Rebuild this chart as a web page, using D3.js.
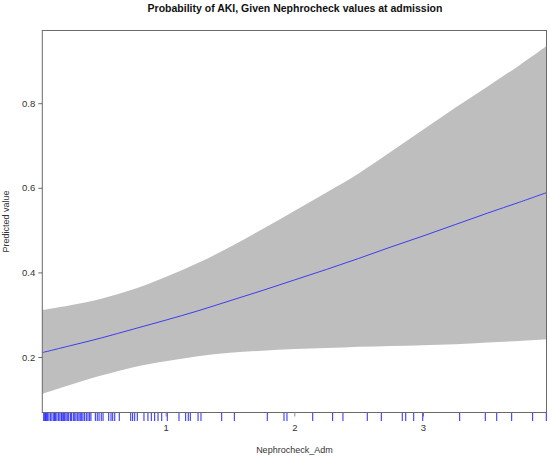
<!DOCTYPE html>
<html>
<head>
<meta charset="utf-8">
<script src="https://cdn.jsdelivr.net/npm/d3@7"></script>
<style>
  html, body { margin: 0; padding: 0; background: #fff; }
  svg { display: block; font-family: "Liberation Sans", Arial, sans-serif; }
</style>
</head>
<body>
<svg id="chart" width="550" height="457"></svg>
<script>
// ---- data ----
const xGrid = [0.036, 0.25, 0.5, 0.75, 1.0, 1.25, 1.5, 1.75, 2.0, 2.25, 2.5, 2.75, 3.0, 3.25, 3.5, 3.75, 3.964];
const fitValues = [0.210, 0.226, 0.245, 0.266, 0.287, 0.309, 0.333, 0.357, 0.382, 0.407, 0.433, 0.460, 0.486, 0.513, 0.540, 0.566, 0.589];
const lowerValues = [0.112, 0.133, 0.156, 0.176, 0.190, 0.202, 0.210, 0.215, 0.219, 0.221, 0.224, 0.226, 0.228, 0.230, 0.234, 0.238, 0.242];
const upperValues = [0.311, 0.322, 0.338, 0.360, 0.389, 0.422, 0.460, 0.502, 0.545, 0.589, 0.634, 0.685, 0.737, 0.789, 0.839, 0.890, 0.936];
const rugValues = [0.053,0.061,0.068,0.076,0.084,0.094,0.107,0.117,0.131,0.138,0.146,0.156,0.169,0.179,0.190,0.197,
  0.208,0.216,0.226,0.236,0.247,0.260,0.270,0.283,0.294,0.304,0.317,0.327,0.337,0.348,0.358,0.371,0.384,0.397,0.410,0.420,
  0.454,0.469,0.483,0.500,0.514,0.558,0.576,0.589,0.605,0.640,0.729,0.744,0.760,0.780,0.832,0.863,0.889,0.915,0.941,0.970,
  1.013,1.104,1.156,1.176,1.192,1.252,1.275,1.436,1.534,1.790,1.920,1.943,2.143,2.298,2.378,2.567,2.676,2.839,2.866,2.928,
  2.998,3.285,3.484,3.573,3.689,3.852,3.958];
const xTicks = [1, 2, 3];
const yTicks = [0.2, 0.4, 0.6, 0.8];
const titleText = "Probability of AKI, Given Nephrocheck values at admission";
const xLabel = "Nephrocheck_Adm";
const yLabel = "Predicted value";

// ---- layout ----
const svg = d3.select("#chart");
const box = { left: 42.3, right: 546.5, top: 30.5, bottom: 412.5 };
const x = d3.scaleLinear().domain([0, 4]).range([36.9, 36.9 + 4 * 128.7]);
const y = d3.scaleLinear().domain([0, 1]).range([441.6, 441.6 - 423]);

const rows = xGrid.map((v, i) => ({ x: v, fit: fitValues[i], lo: lowerValues[i], hi: upperValues[i] }));

svg.append("defs").append("clipPath").attr("id", "plotclip")
  .append("rect").attr("x", box.left).attr("y", box.top)
  .attr("width", box.right - box.left).attr("height", box.bottom - box.top);

const plot = svg.append("g").attr("clip-path", "url(#plotclip)");

plot.append("path")
  .datum(rows)
  .attr("fill", "#bebebe")
  .attr("d", d3.area().curve(d3.curveCatmullRom)
    .x(d => x(d.x)).y0(d => y(d.lo)).y1(d => y(d.hi)));

plot.append("path")
  .datum(rows)
  .attr("fill", "none")
  .attr("stroke", "#3c3cf0")
  .attr("stroke-width", 1)
  .attr("d", d3.line().curve(d3.curveCatmullRom).x(d => x(d.x)).y(d => y(d.fit)));

// box
svg.append("rect")
  .attr("x", box.left).attr("y", box.top)
  .attr("width", box.right - box.left).attr("height", box.bottom - box.top)
  .attr("fill", "none").attr("stroke", "#6a6a6a").attr("stroke-width", 1);

// y axis
const yAxis = d3.axisLeft(y).tickValues(yTicks).tickSize(4).tickPadding(3)
  .tickFormat(d3.format(".1f"));
const yg = svg.append("g").attr("transform", `translate(${box.left},0)`).call(yAxis);
yg.select(".domain").remove();
yg.selectAll(".tick line").attr("stroke", "#6a6a6a");
yg.selectAll(".tick text").attr("fill", "#333").style("font-size", "9.5px")
  .style("font-family", "'Liberation Sans', Arial, sans-serif");

// x axis
const xAxis = d3.axisBottom(x).tickValues(xTicks).tickSize(4).tickPadding(8)
  .tickFormat(d3.format("d"));
const xg = svg.append("g").attr("transform", `translate(0,${box.bottom})`).call(xAxis);
xg.select(".domain").remove();
xg.selectAll(".tick line").attr("stroke", "#8a8a8a");
xg.selectAll(".tick text").attr("fill", "#333").style("font-size", "9.5px")
  .style("font-family", "'Liberation Sans', Arial, sans-serif");

// rug
svg.append("g").attr("class", "rug").selectAll("line").data(rugValues).join("line")
  .attr("x1", d => x(d)).attr("x2", d => x(d))
  .attr("y1", box.bottom + 0.5).attr("y2", box.bottom + 8.5)
  .attr("stroke", "blue").attr("stroke-opacity", 0.85).attr("stroke-width", 1);

// texts
svg.append("text").attr("x", 295).attr("y", 12)
  .attr("text-anchor", "middle").style("font-size", "10.5px").style("font-weight", "bold")
  .attr("fill", "#111").text(titleText);

svg.append("text").attr("x", (box.left + box.right) / 2).attr("y", 453)
  .attr("text-anchor", "middle").style("font-size", "9px").attr("fill", "#333").text(xLabel);

svg.append("text")
  .attr("transform", `translate(9,${(box.top + box.bottom) / 2}) rotate(-90)`)
  .attr("text-anchor", "middle").style("font-size", "9px").attr("fill", "#333").text(yLabel);
</script>
</body>
</html>
